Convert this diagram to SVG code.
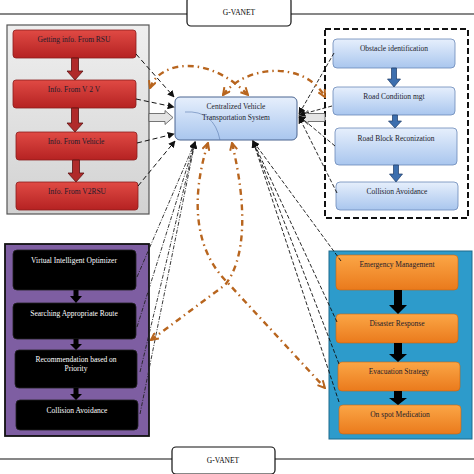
<svg xmlns="http://www.w3.org/2000/svg" width="474" height="474" viewBox="0 0 474 474">
<defs>
<linearGradient id="gGray" x1="0" y1="0" x2="0" y2="1"><stop offset="0" stop-color="#efefef"/><stop offset="1" stop-color="#d2d2d2"/></linearGradient>
<linearGradient id="gRed" x1="0" y1="0" x2="0" y2="1"><stop offset="0" stop-color="#e04a44"/><stop offset="1" stop-color="#b52222"/></linearGradient>
<linearGradient id="gBlue" x1="0" y1="0" x2="0" y2="1"><stop offset="0" stop-color="#e6effc"/><stop offset="1" stop-color="#a9c6ee"/></linearGradient>
<linearGradient id="gOrange" x1="0" y1="0" x2="0" y2="1"><stop offset="0" stop-color="#fba646"/><stop offset="1" stop-color="#ea7a1c"/></linearGradient>
<marker id="mBlack" viewBox="0 0 10 10" refX="9" refY="5" markerWidth="7" markerHeight="7" markerUnits="userSpaceOnUse" orient="auto"><path d="M0,0 L10,5 L0,10 z" fill="#111"/></marker>
<marker id="mOr" viewBox="0 0 10 10" refX="9" refY="5" markerWidth="9" markerHeight="9" markerUnits="userSpaceOnUse" orient="auto-start-reverse"><path d="M1,1 L9,5 L1,9" fill="none" stroke="#b8651e" stroke-width="2.2"/></marker>
</defs>
<style>
text{font-family:"Liberation Serif","Times New Roman",serif;font-size:7.5px;text-anchor:middle}
.lbl{fill:#1c1c2c}
.red{fill:url(#gRed);stroke:#8a1c1c;stroke-width:0.8}
.blue{fill:url(#gBlue);stroke:#6a88b8;stroke-width:0.8}
.blk{fill:#000;stroke:#222;stroke-width:0.8}
.org{fill:url(#gOrange);stroke:#c86510;stroke-width:0.6}
.wt{fill:#fff}
.dash{fill:none;stroke:#111;stroke-width:1;stroke-dasharray:5 3}
.dash2{fill:none;stroke:#111;stroke-width:0.9;stroke-dasharray:4 2}
.dd{fill:none;stroke:#222;stroke-width:0.9;stroke-dasharray:4 1.5 1 1.5}
.or{fill:none;stroke:#b8651e;stroke-width:2.4;stroke-dasharray:6 4 1.5 4}
</style>

<g id="top-bar">
<line x1="0" y1="14" x2="474" y2="14" stroke="#111" stroke-width="1.2"/>
<rect x="187" y="-3" width="104" height="29" rx="4" fill="#fff" stroke="#111" stroke-width="1.2"/>
<text x="239" y="15">G-VANET</text>
</g>
<g id="bottom-bar">
<line x1="0" y1="459" x2="474" y2="459" stroke="#111" stroke-width="1.2"/>
<rect x="172" y="447" width="103" height="27" rx="4" fill="#fff" stroke="#111" stroke-width="1.2"/>
<text x="223" y="463">G-VANET</text>
</g>

<g id="panel-info">
<rect x="7" y="25" width="142" height="189" fill="url(#gGray)" stroke="#555" stroke-width="1.2"/>
<g id="n-rsu"><rect class="red" x="13" y="30" width="123" height="28" rx="3"/><text class="lbl" x="74" y="42">Getting info. From RSU</text></g>
<g id="n-v2v"><rect class="red" x="13" y="80" width="123" height="28" rx="3"/><text class="lbl" x="74" y="92">Info. From V 2 V</text></g>
<g id="n-vehicle"><rect class="red" x="16" y="132" width="121" height="28" rx="3"/><text class="lbl" x="76" y="144">Info. From Vehicle</text></g>
<g id="n-v2rsu"><rect class="red" x="16" y="182" width="122" height="28" rx="3"/><text class="lbl" x="77" y="194">Info. From V2RSU</text></g>
<g fill="#b02a2a" stroke="#5a1010" stroke-width="0.8">
<path d="M71.5,58 h7 v13 h4.5 l-8,9 l-8,-9 h4.5 z"/>
<path d="M71.5,108 h7 v15 h4.5 l-8,9 l-8,-9 h4.5 z"/>
<path d="M72.5,160 h7 v13 h4.5 l-8,9 l-8,-9 h4.5 z"/>
</g>
</g>

<g id="panel-road">
<rect x="325" y="29" width="143" height="189" fill="#fff" stroke="#111" stroke-width="2" stroke-dasharray="6 3"/>
<g id="n-obstacle"><rect class="blue" x="333" y="39" width="122" height="29" rx="4"/><text class="lbl" x="394" y="51">Obstacle identification</text></g>
<g id="n-roadcond"><rect class="blue" x="333" y="87" width="122" height="28" rx="4"/><text class="lbl" x="394" y="99">Road Condition mgt</text></g>
<g id="n-roadblock"><rect class="blue" x="335" y="128" width="122" height="37" rx="4"/><text class="lbl" x="396" y="141">Road Block Reconization</text></g>
<g id="n-collision1"><rect class="blue" x="336" y="182" width="122" height="28" rx="4"/><text class="lbl" x="397" y="194">Collision Avoidance</text></g>
<g fill="#3d6fae" stroke="#1d3a66" stroke-width="0.7">
<path d="M391.5,68 h5 v11 h4 l-6.5,8 l-6.5,-8 h4 z"/>
<path d="M392.5,115 h5 v6 h4 l-6.5,7 l-6.5,-7 h4 z"/>
<path d="M393.5,165 h5 v9 h4 l-6.5,8 l-6.5,-8 h4 z"/>
</g>
</g>

<g id="panel-optimizer">
<rect x="5" y="244" width="144" height="192" fill="#7e5ea2" stroke="#111" stroke-width="1.8"/>
<g id="n-vio"><rect class="blk" x="13" y="250" width="123" height="40" rx="4"/><text class="wt" x="74" y="263">Virtual Intelligent Optimizer</text></g>
<g id="n-search"><rect class="blk" x="13" y="303" width="123" height="36" rx="4"/><text class="wt" x="74" y="316">Searching Appropriate Route</text></g>
<g id="n-recommend"><rect class="blk" x="15" y="350" width="122" height="38" rx="4"/><text class="wt" x="76" y="362">Recommendation based on</text><text class="wt" x="76" y="371">Priority</text></g>
<g id="n-collision2"><rect class="blk" x="16" y="400" width="122" height="30" rx="4"/><text class="wt" x="77" y="413">Collision Avoidance</text></g>
<g fill="#000">
<path d="M73.5,290 h5 v6 h3.5 l-6,7 l-6,-7 h3.5 z"/>
<path d="M73.5,339 h5 v5 h3.5 l-6,6 l-6,-6 h3.5 z"/>
<path d="M73.5,388 h5 v6 h3.5 l-6,6 l-6,-6 h3.5 z"/>
</g>
</g>

<g id="panel-emergency">
<rect x="329" y="251" width="143" height="188" fill="#2d9bcb" stroke="#1e6a8c" stroke-width="1"/>
<g id="n-emergency"><rect class="org" x="336" y="255" width="122" height="35" rx="4"/><text class="lbl" x="397" y="267">Emergency Management</text></g>
<g id="n-disaster"><rect class="org" x="336" y="314" width="122" height="29" rx="4"/><text class="lbl" x="397" y="326">Disaster Response</text></g>
<g id="n-evacuation"><rect class="org" x="338" y="362" width="122" height="29" rx="4"/><text class="lbl" x="399" y="374">Evacuation Strategy</text></g>
<g id="n-medication"><rect class="org" x="339" y="405" width="122" height="29" rx="4"/><text class="lbl" x="400" y="417">On spot Medication</text></g>
<g fill="#000">
<path d="M394,290 h8 v15 h5 l-9,9 l-9,-9 h5 z"/>
<path d="M394,343 h8 v11 h5 l-9,8 l-9,-8 h5 z"/>
<path d="M394,391 h8 v7 h5 l-9,7 l-9,-7 h5 z"/>
</g>
</g>

<g id="n-central">
<rect x="175" y="97" width="122" height="43" rx="5" fill="url(#gBlue)" stroke="#4a6590" stroke-width="1"/>
<path d="M185,112 Q214,110 220,140" fill="none" stroke="#5b7bb0" stroke-width="0.6"/>
<text class="lbl" x="236" y="109">Centralized Vehicle</text>
<text class="lbl" x="236" y="120">Transportation System</text>
</g>

<g id="block-arrows" fill="#e4e4e4" stroke="#555" stroke-width="0.8">
<path d="M149,113.5 h16 v-3 l8,7 l-8,7 v-3 h-16 z"/>
<path d="M325,113.5 h-17 v-3 l-8,7 l8,7 v-3 h17 z"/>
</g>

<g id="connectors">
<line class="dash" x1="136" y1="54" x2="174" y2="97" marker-end="url(#mBlack)"/>
<line class="dash" x1="136" y1="99" x2="174" y2="107" marker-end="url(#mBlack)"/>
<line class="dash" x1="137" y1="143" x2="174" y2="134" marker-end="url(#mBlack)"/>
<line class="dash" x1="138" y1="186" x2="175" y2="141" marker-end="url(#mBlack)"/>

<line class="dash2" x1="334" y1="53" x2="299" y2="114" marker-end="url(#mBlack)"/>
<line class="dash2" x1="332" y1="106" x2="299" y2="115" marker-end="url(#mBlack)"/>
<line class="dash2" x1="335" y1="146" x2="299" y2="116" marker-end="url(#mBlack)"/>
<line class="dash2" x1="337" y1="193" x2="299" y2="117" marker-end="url(#mBlack)"/>

<line class="dash2" x1="341" y1="261" x2="253" y2="141" marker-end="url(#mBlack)"/>
<line class="dash2" x1="337" y1="322" x2="253" y2="141" marker-end="url(#mBlack)"/>
<line class="dash2" x1="339" y1="364" x2="253" y2="141" marker-end="url(#mBlack)"/>
<line class="dash2" x1="339" y1="402" x2="253" y2="141" marker-end="url(#mBlack)"/>

<line class="dd" x1="137" y1="277" x2="195" y2="142" marker-end="url(#mBlack)"/>
<line class="dd" x1="137" y1="327" x2="195" y2="142" marker-end="url(#mBlack)"/>
<line class="dd" x1="140" y1="372" x2="195" y2="142" marker-end="url(#mBlack)"/>
<line class="dd" x1="140" y1="414" x2="195" y2="142" marker-end="url(#mBlack)"/>

<path class="or" d="M150,88 C160,60 210,55 248,95" marker-start="url(#mOr)" marker-end="url(#mOr)"/>
<path class="or" d="M223,95 C245,65 305,60 325,97" marker-start="url(#mOr)" marker-end="url(#mOr)"/>
<path class="or" d="M208,143 C190,200 195,250 227,282 L325,388" marker-start="url(#mOr)" marker-end="url(#mOr)"/>
<path class="or" d="M232,143 C248,210 245,260 225,285 L151,340" marker-start="url(#mOr)" marker-end="url(#mOr)"/>
</g>
</svg>
